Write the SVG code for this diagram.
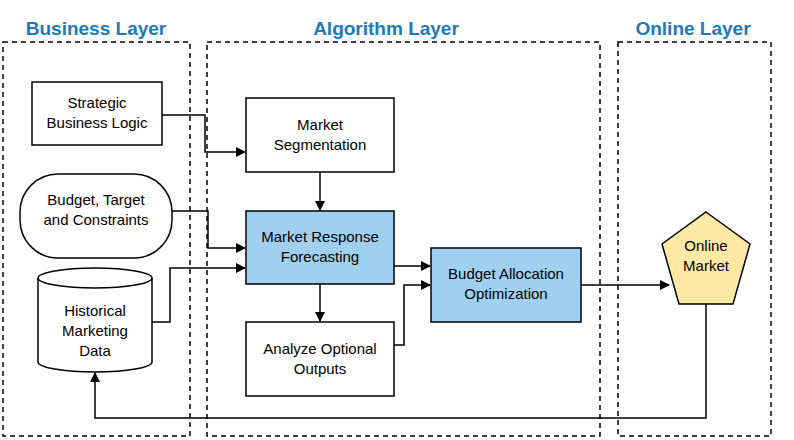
<svg xmlns="http://www.w3.org/2000/svg" width="794" height="440" viewBox="0 0 794 440">
<style>
.layer{fill:none;stroke:#000;stroke-width:1.5;stroke-dasharray:5,4}
.title{font-family:"Liberation Sans",Arial,sans-serif;font-weight:bold;font-size:19px;fill:#1b7bb8;text-anchor:middle}
.n{fill:#fff;stroke:#000;stroke-width:1.5}
.b{fill:#9fd0f2;stroke:#000;stroke-width:1.5}
.t{font-family:"Liberation Sans",Arial,sans-serif;font-size:15px;fill:#000;text-anchor:middle}
.c{fill:none;stroke:#000;stroke-width:1.5;marker-end:url(#a)}
</style>
<defs><marker id="a" markerWidth="10" markerHeight="10" refX="9" refY="5" orient="auto" markerUnits="userSpaceOnUse"><path d="M0,0 L10,5 L0,10 z" fill="#000"/></marker></defs>
<rect width="794" height="440" fill="#fff"/>
<g id="layers">
<rect class="layer" x="3" y="42" width="187" height="394"/>
<rect class="layer" x="207" y="42" width="393" height="394"/>
<rect class="layer" x="618" y="42" width="153" height="394"/>
<text class="title" x="96" y="35">Business Layer</text>
<text class="title" x="386" y="35">Algorithm Layer</text>
<text class="title" x="693" y="35">Online Layer</text>
</g>
<g id="sbl"><rect class="n" x="32" y="82" width="130" height="63"/><text class="t" x="97" y="108">Strategic</text><text class="t" x="97" y="128">Business Logic</text></g>
<g id="btc"><rect class="n" x="20" y="174" width="152" height="84" rx="38"/><text class="t" x="96" y="205">Budget, Target</text><text class="t" x="96" y="225">and Constraints</text></g>
<g id="hmd"><path class="n" d="M38,278 A57,10 0 0 1 152,278 L152,362 A57,10 0 0 1 38,362 Z"/><path class="n" d="M38,278 A57,10 0 0 0 152,278"/><text class="t" x="95" y="316">Historical</text><text class="t" x="95" y="336">Marketing</text><text class="t" x="95" y="356">Data</text></g>
<g id="ms"><rect class="n" x="246" y="98" width="148" height="74"/><text class="t" x="320" y="130">Market</text><text class="t" x="320" y="150">Segmentation</text></g>
<g id="mrf"><rect class="b" x="246" y="211" width="148" height="73"/><text class="t" x="320" y="242">Market Response</text><text class="t" x="320" y="262">Forecasting</text></g>
<g id="aoo"><rect class="n" x="246" y="322" width="148" height="74"/><text class="t" x="320" y="354">Analyze Optional</text><text class="t" x="320" y="374">Outputs</text></g>
<g id="bao"><rect class="b" x="431" y="248" width="150" height="74"/><text class="t" x="506" y="279">Budget Allocation</text><text class="t" x="506" y="299">Optimization</text></g>
<g id="om"><polygon points="706,212 750,244 733,304 679,304 662,244" fill="#fde9a6" stroke="#000" stroke-width="1.5"/><text class="t" x="706" y="251">Online</text><text class="t" x="706" y="271">Market</text></g>
<g id="connectors">
<path class="c" d="M162,115 H205 V152 H245"/>
<path class="c" d="M172,211 H208 V248 H245"/>
<path class="c" d="M152,322 H170 V268 H245"/>
<path class="c" d="M320,172 V210"/>
<path class="c" d="M320,284 V321"/>
<path class="c" d="M394,266 H430"/>
<path class="c" d="M394,345 H404 V285 H430"/>
<path class="c" d="M581,285 H669"/>
<path class="c" d="M706,304 V418 H95 V373"/>
</g>
</svg>
